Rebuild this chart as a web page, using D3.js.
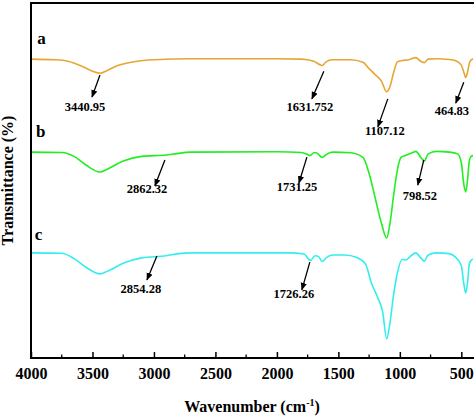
<!DOCTYPE html><html><head><meta charset="utf-8"><script src="https://d3js.org/d3.v7.min.js"></script>
<style>body{margin:0;background:#fff}text{font-family:"Liberation Serif","DejaVu Serif",serif;font-weight:bold}</style></head><body><svg id="c" width="474" height="417"></svg><script>
const seriesA=[[4000,84.2],[3800,84.0],[3700,83.6],[3600,82.4],[3500,80.8],[3440,80.2],[3380,81.0],[3300,82.3],[3150,83.5],[3000,84.0],[2700,84.3],[2000,84.3],[1800,84.2],[1700,83.6],[1650,82.6],[1631,82.4],[1600,83.4],[1550,84.0],[1400,84.0],[1300,83.3],[1250,81.5],[1200,79.8],[1150,78.0],[1107,75.0],[1080,76.5],[1050,80.5],[1020,83.4],[980,83.8],[930,84],[870,84.6],[830,83.6],[800,83.2],[770,84.2],[700,84.3],[600,84.1],[550,83.8],[500,82.5],[475,80.0],[464,79.0],[450,80.5],[430,83.5],[405,84.3]];
const seriesB=[[4000,58.0],[3750,57.9],[3650,56.8],[3550,54.3],[3440,52.4],[3380,53.2],[3250,55.5],[3100,56.8],[2900,57.2],[2850,57.4],[2700,58.0],[2000,58.1],[1800,57.9],[1750,57.3],[1731,57.0],[1700,57.8],[1680,57.8],[1631,56.5],[1600,57.3],[1550,58.0],[1400,57.8],[1300,56.5],[1250,52],[1200,45],[1150,38],[1107,33.8],[1080,38],[1050,46],[1020,53],[990,56.5],[960,57.0],[930,57.4],[900,57.8],[870,58.2],[830,56.5],[800,55.5],[770,57.5],[700,58.2],[600,58.0],[530,57.5],[500,55],[480,49],[464,46.8],[450,50],[435,55.5],[420,56.8],[405,57]];
const seriesC=[[4000,29.6],[3750,29.5],[3650,28.0],[3550,25.5],[3440,23.7],[3380,24.4],[3250,26.7],[3100,28.2],[2900,28.8],[2800,29.4],[2700,29.6],[1900,29.6],[1780,29.3],[1726,27.5],[1690,28.8],[1660,28.5],[1631,27.2],[1600,28.2],[1550,29.0],[1450,29.0],[1350,28.3],[1280,26.5],[1230,21],[1180,17],[1140,13],[1107,5.4],[1080,10],[1050,18],[1020,24],[980,27.8],[950,27.6],[920,28.5],[870,29.6],[830,28.2],[800,27.3],[770,29.0],[700,29.6],[600,29.4],[550,28.5],[500,26],[480,21],[464,18.3],[450,21],[435,26.5],[420,27.5],[405,27.8]];
const seriesNames=["a","b","c"];
const seriesColors=["#e6a633","#22ee22","#33eeee"];
const nameLabels=[[3950,88.5],[3960,62.3],[3970,33.2]];
// label, arrow from [wn,T], arrow to [wn,T], text [wn,T]
const annLabels=["3440.95","1631.752","1107.12","464.83","2862.32","1731.25","798.52","2854.28","1726.26"];
const annFrom=[[3439,79.7],[1618,80.8],[1098,73.0],[480,77.7],[2911,55.8],[1756,56.6],[805,55.8],[2976,28.7],[1732,27.0]];
const annTo=[[3504,73.5],[1715,73.0],[1179,65.1],[545,71.8],[2992,48.5],[1821,49.3],[854,48.7],[3057,22.0],[1797,19.2]];
const annText=[[3561,69.6],[1732,69.6],[1122,62.8],[577,68.5],[3057,46.5],[1837,47.0],[837,44.5],[3106,18.3],[1862,16.9]];
const xTicks=[4000,3500,3000,2500,2000,1500,1000,500];

const svg=d3.select("#c");
const L=31,R=473,T=3,B=358;
const x=d3.scaleLinear().domain([4000,405]).range([L,R]);
const y=d3.scaleLinear().domain([0,100]).range([B,T]);
svg.append("defs").append("marker").attr("id","ah").attr("viewBox","0 0 10 10").attr("refX",9).attr("refY",5)
 .attr("markerWidth",6).attr("markerHeight",6).attr("orient","auto")
 .append("path").attr("d","M0,1L10,5L0,9Z").attr("fill","#000");
const line=d3.line().x(d=>x(d[0])).y(d=>y(d[1])).curve(d3.curveMonotoneX);
[seriesA,seriesB,seriesC].forEach((s,i)=>{
 svg.append("path").attr("d",line(s)).attr("fill","none").attr("stroke",seriesColors[i]).attr("stroke-width",1.6);
 svg.append("text").attr("x",x(nameLabels[i][0])).attr("y",y(nameLabels[i][1])).attr("font-size",17).text(seriesNames[i]);
});
annLabels.forEach((t,i)=>{
 svg.append("line").attr("x1",x(annFrom[i][0])).attr("y1",y(annFrom[i][1])).attr("x2",x(annTo[i][0])).attr("y2",y(annTo[i][1]))
  .attr("stroke","#000").attr("stroke-width",1.3).attr("marker-end","url(#ah)");
 svg.append("text").attr("x",x(annText[i][0])).attr("y",y(annText[i][1])).attr("text-anchor","middle").attr("font-size",12.5).text(t);
});
svg.append("rect").attr("x",L).attr("y",T).attr("width",R-L+3).attr("height",B-T).attr("fill","none").attr("stroke","#000").attr("stroke-width",2);
const ax=svg.append("g").attr("transform",`translate(0,${B})`)
 .call(d3.axisBottom(x).tickValues(xTicks).tickSize(-6).tickPadding(10).tickFormat(d3.format("d")));
ax.select(".domain").remove();
ax.selectAll("text").attr("font-size",16).attr("fill","#000");
ax.selectAll("line").attr("stroke-width",1.5);
const minor=d3.range(3750,400,-500);
svg.append("g").selectAll("line").data(minor).join("line").attr("x1",d=>x(d)).attr("x2",d=>x(d)).attr("y1",B).attr("y2",B-3.5).attr("stroke","#000").attr("stroke-width",1.3);
svg.append("text").attr("x",(L+R)/2).attr("y",412).attr("text-anchor","middle").attr("font-size",16)
 .html('Wavenumber (cm<tspan dy="-6" font-size="10">-1</tspan><tspan dy="6">)</tspan>');
svg.append("text").attr("transform",`translate(13,${(T+B)/2}) rotate(-90)`).attr("text-anchor","middle").attr("font-size",16).text("Transmittance (%)");
</script></body></html>
